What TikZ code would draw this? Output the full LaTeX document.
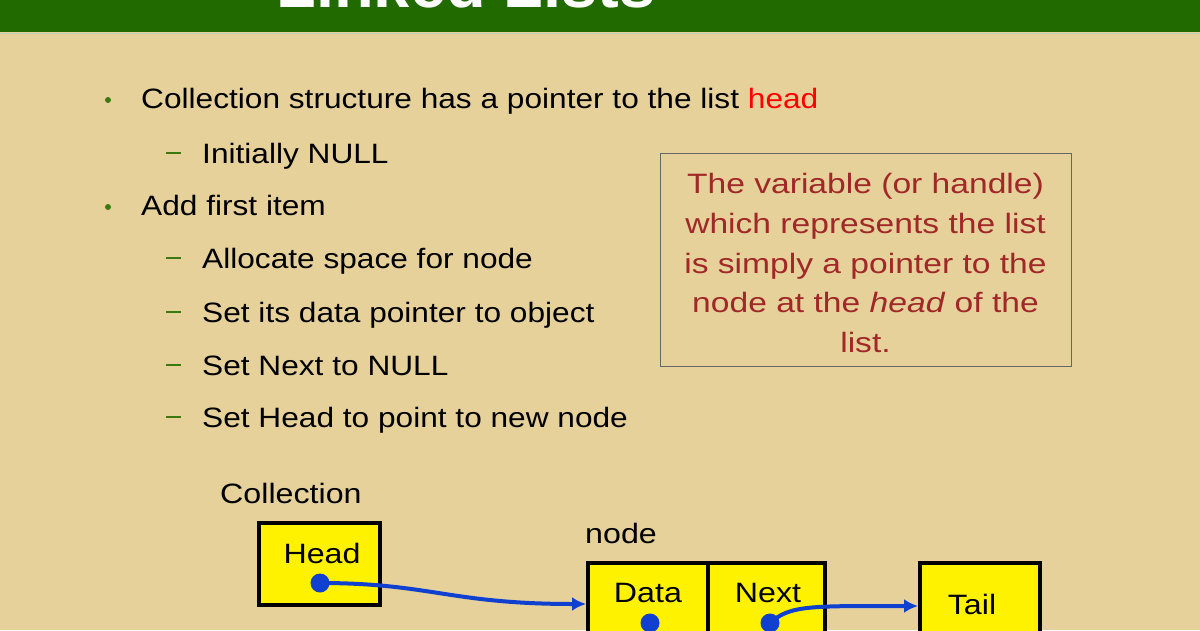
\documentclass[tikz,border=0pt]{standalone}
\usepackage{fontspec}
\setmainfont{Liberation Sans}
\usetikzlibrary{arrows.meta}
\definecolor{bg}{HTML}{E6D19A}
\definecolor{band}{HTML}{216A00}
\definecolor{dred}{HTML}{A02828}
\definecolor{ptr}{HTML}{1040D0}
\definecolor{bul}{HTML}{3A7A10}
\begin{document}
\begin{tikzpicture}[x=1pt,y=-1pt,
  txt/.style={anchor=base west,inner sep=0,xscale=1.13,transform shape,font=\fontsize{28}{34}\selectfont},
  cell/.style={draw=black,line width=3.5pt,fill=yellow},
  lbl/.style={inner sep=0,xscale=1.15,transform shape,font=\fontsize{28}{34}\selectfont},
  dotp/.style={circle,fill=ptr,inner sep=0,minimum size=19pt},
  link/.style={draw=ptr,line width=4pt,-{Latex[length=14pt,width=14pt]}}]
\useasboundingbox (0,0) rectangle (1200,630);
\fill[bg] (0,0) rectangle (1200,630);
\fill[band] (0,0) rectangle (1200,32);
\draw[white!70!band,line width=1pt] (0,33) -- (1200,33);
\node[anchor=base,inner sep=0,text=white,font=\fontsize{65}{70}\selectfont\bfseries] (title) at (466,7) {Linked Lists};
% bullets
\foreach \n/\y in {b1/100,b2/207} \fill[bul] (108,\y) circle (3);
\node[txt] (t1) at (141,108) {Collection structure has a pointer to the list \textcolor{red}{head}};
\node[txt] (t2) at (202,163) {Initially NULL};
\node[txt] (t3) at (141,215) {Add first item};
\node[txt] (t4) at (202,268) {Allocate space for node};
\node[txt] (t5) at (202,322) {Set its data pointer to object};
\node[txt] (t6) at (202,375) {Set Next to NULL};
\node[txt] (t7) at (202,427) {Set Head to point to new node};
\foreach \y in {153,258,312,365,417} \draw[bul,line width=1.5pt] (166,\y) -- (181,\y);
% note box
\draw[black!60,line width=1pt] (660,153) rectangle (1071,366);
\node[text=dred,align=center,xscale=1.2,transform shape,font=\fontsize{28}{39.7}\selectfont,inner sep=0] (note) at (865.5,263) {The variable (or handle)\\which represents the list\\is simply a pointer to the\\node at the \emph{head} of the\\list.};
% diagram
\node[lbl,anchor=base west] (coll) at (220,503) {Collection};
\draw[cell] (259,523) rectangle (380,605);
\node[lbl] (head) at (322,553) {Head};
\node[dotp] (hd) at (320,583) {};
\node[lbl,anchor=base west] (nodel) at (585,543) {node};
\draw[cell] (588,563) rectangle (708,650);
\draw[cell] (708,563) rectangle (825,650);
\node[lbl] (data) at (648,593) {Data};
\node[lbl] (next) at (768,593) {Next};
\node[dotp] (dd) at (650,623) {};
\node[dotp] (nd) at (770,623) {};
\draw[cell] (920,563) rectangle (1040,650);
\node[lbl] (tail) at (972,604) {Tail};
\coordinate (dl) at (586,604);
\coordinate (tl) at (918,606);
\draw[link] (hd.center) .. controls (430,583) and (450,604) .. (dl);
\draw[link] (nd.center) .. controls (790,605) and (810,606) .. (tl);
\end{tikzpicture}
\end{document}
